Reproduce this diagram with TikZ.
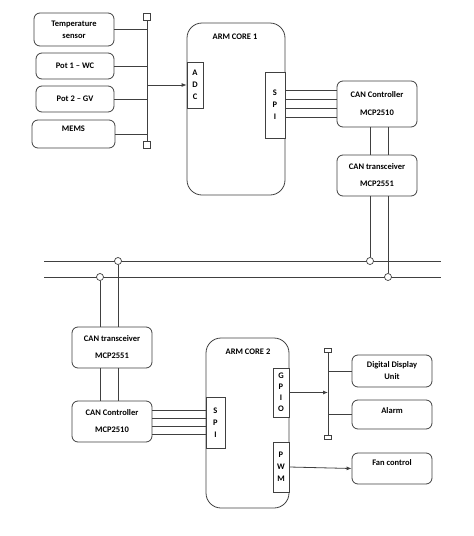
\documentclass[tikz,border=0pt]{standalone}
\usepackage{fontspec}
\setmainfont{Carlito}
\usetikzlibrary{arrows.meta, positioning, calc}

\begin{document}
\begin{tikzpicture}[
    x=1pt, y=-1pt,
    font=\fontsize{8.5}{12}\selectfont\bfseries,
    wire/.style     ={line width=0.8pt, draw=black!75},
    sig/.style      ={wire, -{Latex[length=5pt, width=4pt]}},
    box/.style      ={draw=black!75, line width=0.8pt, rounded corners=6pt,
                      align=center, inner sep=0pt, fill=white},
    core/.style     ={draw=black!75, line width=0.8pt, rounded corners=15pt,
                      inner sep=0pt},
    port/.style     ={draw=black!75, line width=0.8pt, align=center,
                      inner sep=0pt, fill=white},
    term/.style     ={draw=black!75, line width=0.7pt, fill=white,
                      inner sep=0pt, minimum width=7pt, minimum height=7pt},
    tap/.style      ={circle, draw=black!75, line width=0.7pt, fill=white,
                      inner sep=0pt, minimum size=7pt}
]
\useasboundingbox (0,0) rectangle (474,536);

% =================== TOP: sensors + ARM core 1 ===================
\node[box, minimum width=80pt, minimum height=33pt] (temp) at (74,29.5) {Temperature\\sensor};
\node[box, minimum width=78pt, minimum height=26pt] (pot1) at (75,66)   {Pot 1 -- WC};
\node[box, minimum width=78pt, minimum height=26pt] (pot2) at (75,99)   {Pot 2 -- GV};
\node[box, minimum width=83pt, minimum height=28pt, text depth=10pt] (mems) at (73.5,134) {MEMS};

% sensor bus with end terminals
\node[term] (sqA1) at (147,17)  {};
\node[term] (sqA2) at (147,145) {};
\draw[wire] (sqA1.south) -- (sqA2.north);

\draw[wire] (temp.east) -- (temp.east -| sqA1);
\draw[wire] (pot1.east) -- (pot1.east -| sqA1);
\draw[wire] (pot2.east) -- (pot2.east -| sqA1);
\draw[wire] (mems.east) -- (mems.east -| sqA1);

\node[core, minimum width=98pt, minimum height=172pt] (arm1) at (236,109) {};
\node (arm1lbl) at (235,37) {ARM CORE 1};
\node[port, minimum width=16pt, minimum height=46pt] (adc)  at (195,85)  {A\\D\\C};
\node[port, minimum width=20pt, minimum height=66pt] (spi1) at (275,105) {S\\P\\I};

% bus -> ADC
\draw[sig] (adc.west -| sqA1) -- (adc.west);

% CAN node 1
\node[box, minimum width=80pt, minimum height=46pt] (ctrl1)  at (377,104)   {CAN Controller\\[6pt]MCP2510};
\node[box, minimum width=80pt, minimum height=41pt] (trans1) at (377,175.5) {CAN transceiver\\[5pt]MCP2551};

% SPI lines
\foreach \dy in {15,6,-3,-12}
    \draw[wire] ([yshift=\dy pt]spi1.east) -- ([yshift=\dy pt]spi1.east -| ctrl1.west);

% =================== MIDDLE: CAN bus ===================
\coordinate (busL1) at (44,261);
\coordinate (busR1) at (441,261);
\coordinate (busL2) at (44,277);
\coordinate (busR2) at (441,277);
\draw[wire] (busL1) -- (busR1);
\draw[wire] (busL2) -- (busR2);

\node[tap] (j1) at (370,261) {};
\node[tap] (j2) at (388,277) {};
\node[tap] (j3) at (118,261) {};
\node[tap] (j4) at (100,277) {};

\draw[wire] (j1.north) -- (j1 |- trans1.south);
\draw[wire] (j2.north) -- (j2 |- trans1.south);
\draw[wire] (ctrl1.south -| j1) -- (trans1.north -| j1);
\draw[wire] (ctrl1.south -| j2) -- (trans1.north -| j2);

% =================== BOTTOM: CAN node 2 + ARM core 2 ===================
\node[box, minimum width=80pt, minimum height=41pt] (trans2) at (112,347.5) {CAN transceiver\\[5pt]MCP2551};
\node[box, minimum width=80pt, minimum height=41pt] (ctrl2)  at (112,421.5) {CAN Controller\\[5pt]MCP2510};

\draw[wire] (j4.south) -- (j4 |- trans2.north);
\draw[wire] (j3.south) -- (j3 |- trans2.north);
\draw[wire] (trans2.south -| j4) -- (ctrl2.north -| j4);
\draw[wire] (trans2.south -| j3) -- (ctrl2.north -| j3);

\node[core, minimum width=83pt, minimum height=170pt] (arm2) at (247.5,423) {};
\node (arm2lbl) at (248,352) {ARM CORE 2};
\node[port, minimum width=19pt, minimum height=51pt] (spi2) at (215.5,422.5) {S\\P\\I};
\node[port, minimum width=16pt, minimum height=49pt] (gpio) at (281,392.5)  {G\\[-1pt]P\\[-1pt]I\\[-1pt]O};
\node[port, minimum width=16pt, minimum height=50pt] (pwm)  at (281,467)    {P\\W\\M};

\foreach \dy in {11,3,-5,-13}
    \draw[wire] ([yshift=\dy pt]ctrl2.east) -- ([yshift=\dy pt]ctrl2.east -| spi2.west);

% output bus
\node[term, minimum height=4pt] (sqB1) at (328,350) {};
\node[term, minimum height=4pt] (sqB2) at (328,437) {};
\draw[wire] (sqB1.south) -- (sqB2.north);
\draw[sig] (gpio.east) -- (gpio.east -| sqB1);

\node[box, minimum width=80pt, minimum height=32pt] (disp)  at (392,371)   {Digital Display\\Unit};
\node[box, minimum width=80pt, minimum height=29pt, text depth=8pt]  (alarm) at (392,414.5) {Alarm};
\node[box, minimum width=80pt, minimum height=31pt, text depth=12pt] (fan)   at (392,468.5) {Fan control};

\draw[wire] (disp.west -| sqB1) -- (disp.west);
\draw[wire] (alarm.west -| sqB1) -- (alarm.west);
\draw[sig] (pwm.east) -- (fan.west);

\end{tikzpicture}
\end{document}
